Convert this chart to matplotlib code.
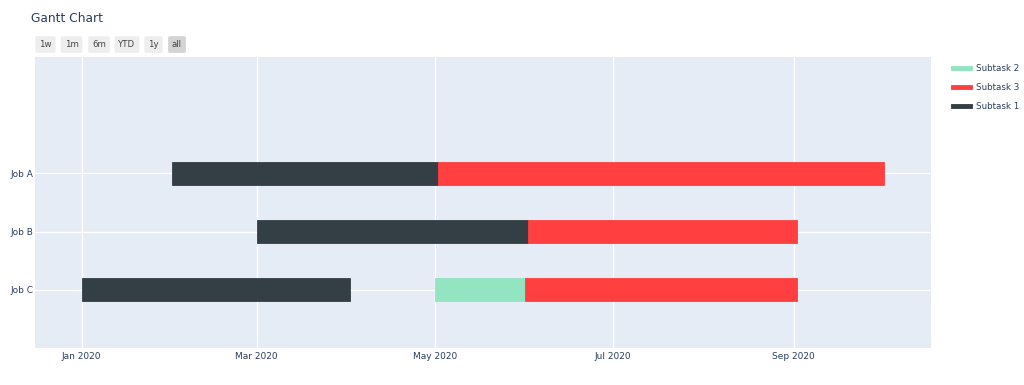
import matplotlib
matplotlib.use('Agg')
import matplotlib.pyplot as plt
import matplotlib.dates as mdates
from matplotlib.lines import Line2D
from datetime import datetime

# 資料
jobs = ['Job C', 'Job B', 'Job A']
task_job = ['Job A', 'Job A', 'Job B', 'Job B', 'Job C', 'Job C', 'Job C']
task_name = ['Subtask 1', 'Subtask 3', 'Subtask 1', 'Subtask 3', 'Subtask 1', 'Subtask 2', 'Subtask 3']
task_start = ['2020-02-01', '2020-05-02', '2020-03-01', '2020-06-02', '2020-01-01', '2020-05-01', '2020-06-01']
task_finish = ['2020-05-02', '2020-10-02', '2020-06-02', '2020-09-02', '2020-04-02', '2020-06-01', '2020-09-02']
legend_order = ['Subtask 2', 'Subtask 3', 'Subtask 1']
colors = {'Subtask 1': '#333f44', 'Subtask 2': '#93e4c1', 'Subtask 3': '#ff3f40'}
buttons = ['1w', '1m', '6m', 'YTD', '1y', 'all']

fig = plt.figure(figsize=(10.24, 3.85), dpi=100)
ax = fig.add_axes([35 / 1024, 1 - 348 / 385, (931 - 35) / 1024, (348 - 57) / 385])
ax.set_facecolor('#e5ecf6')

for j, name, s, f in zip(task_job, task_name, task_start, task_finish):
    s0 = mdates.date2num(datetime.strptime(s, '%Y-%m-%d'))
    f0 = mdates.date2num(datetime.strptime(f, '%Y-%m-%d'))
    ax.barh(jobs.index(j), f0 - s0, left=s0, height=0.4, color=colors[name],
            edgecolor=colors[name], linewidth=0.6, zorder=3)

ax.set_ylim(-1, 4)
ax.set_yticks(range(len(jobs)))
ax.set_yticklabels(jobs)
ax.set_xlim(mdates.date2num(datetime(2019, 12, 16)), mdates.date2num(datetime(2020, 10, 18)))
ax.xaxis.set_major_locator(mdates.MonthLocator(bymonth=[1, 3, 5, 7, 9]))
ax.xaxis.set_major_formatter(mdates.DateFormatter('%b %Y'))

ax.grid(True, color='white', linewidth=1.0, zorder=0)
ax.set_axisbelow(True)
for sp in ax.spines.values():
    sp.set_visible(False)
ax.tick_params(length=0, labelsize=6.5, colors='#2a3f5f')
ax.tick_params(axis='x', pad=3)
ax.tick_params(axis='y', pad=1)

# 標題
fig.text(31 / 1024, 1 - 18 / 385, 'Gantt Chart', fontsize=8.8, color='#2a3f5f', va='center', ha='left')

# 範圍按鈕
bx = [45.5, 71.5, 99, 127, 153.5, 177]
for b, x in zip(buttons, bx):
    fc = '#d4d4d4' if b == 'all' else '#eeeeee'
    fig.text(x / 1024, 1 - 44.5 / 385, b, fontsize=6.2, color='#444444', ha='center', va='center',
             bbox=dict(boxstyle='round,pad=0.45,rounding_size=0.2', fc=fc, ec='none'))

# 圖例
handles = [Line2D([0], [0], color=colors[n], lw=3.5) for n in legend_order]
fig.legend(handles, legend_order, loc='upper left', bbox_to_anchor=(945 / 1024, 1 - 56 / 385),
           frameon=False, fontsize=6.3, labelcolor='#2a3f5f', handlelength=2.0,
           handletextpad=0.6, labelspacing=1.15)

fig.savefig('out.png', dpi=100, facecolor='white')
